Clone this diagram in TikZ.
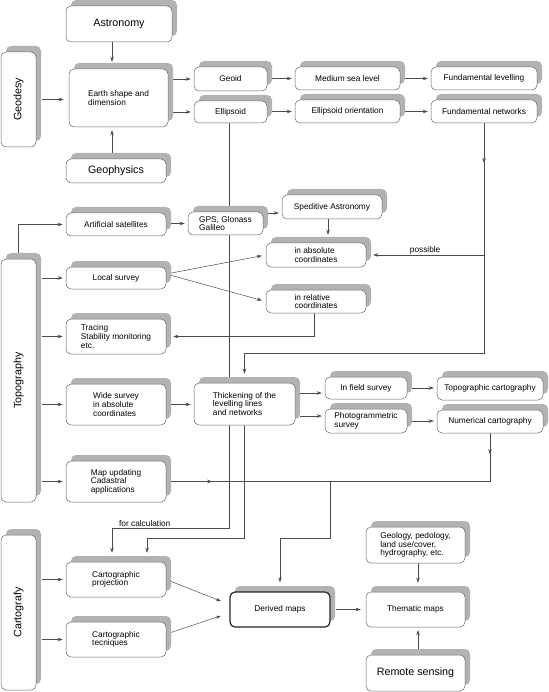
\documentclass[tikz,border=0pt]{standalone}
\usepackage{fontspec}
\usepackage{graphicx}
\setmainfont{Liberation Sans}
\usetikzlibrary{shadows,arrows.meta,calc}
\pgfdeclarelayer{bg}
\pgfsetlayers{bg,main}
\tikzset{
  box/.style={draw=black!60, fill=white, rounded corners=5pt, line width=0.5pt, align=left, inner sep=1pt,
    font=\fontsize{8.3}{8.6}\selectfont,
    drop shadow={shadow xshift=5pt, shadow yshift=6pt, fill=black!30, opacity=1}},
  bigbox/.style={box, font=\fontsize{10.7}{12}\selectfont},
  mainbox/.style={box, draw=black!85, line width=1.2pt},
  conn/.style={draw=black!70, line width=0.5pt},
  arr/.style={conn, -{Stealth[length=5pt,width=3.5pt]}, shorten >=3pt},
  lbl/.style={font=\fontsize{8.3}{9}\selectfont, inner sep=1pt, text=black},
}
\begin{document}
\begin{tikzpicture}[x=1pt,y=-1pt]
\useasboundingbox (0,0) rectangle (548,692);
% Geodesy block
\node[bigbox, minimum width=106pt, minimum height=36pt] (astro) at (119,24) {Astronomy};
\node[bigbox, minimum width=35pt, minimum height=95pt] (geodesy) at (18.5,99.5) {\rotatebox{90}{Geodesy}};
\node[box, minimum width=99pt, minimum height=58pt] (earth) at (118.5,98) {Earth shape and\\dimension};
\node[bigbox, minimum width=100pt, minimum height=24pt] (geophys) at (116,171) {Geophysics};
\node[box, minimum width=73pt, minimum height=24pt] (geoid) at (230.5,79) {Geoid};
\node[box, minimum width=73pt, minimum height=22pt] (ellipsoid) at (230.5,112) {Ellipsoid};
\node[box, minimum width=105pt, minimum height=23pt] (msl) at (347.5,78.5) {Medium sea level};
\node[box, minimum width=106pt, minimum height=23pt] (flev) at (484,78.5) {Fundamental levelling};
\node[box, minimum width=105pt, minimum height=23pt] (eorient) at (347.5,111.5) {Ellipsoid orientation};
\node[box, minimum width=106pt, minimum height=23pt] (fnet) at (484,111.5) {Fundamental networks};
% Topography block
\node[box, minimum width=100pt, minimum height=23pt] (artsat) at (116,224.5) {Artificial satellites};
\node[box, minimum width=75pt, minimum height=23pt] (gps) at (225.5,223.5) {GPS, Glonass\\Galileo};
\node[box, minimum width=100pt, minimum height=24pt] (sped) at (332,207) {Speditive Astronomy};
\node[bigbox, minimum width=35pt, minimum height=243pt] (topo) at (18.5,380.5) {\rotatebox{90}{Topography}};
\node[box, minimum width=100pt, minimum height=22pt] (local) at (116,278) {Local survey};
\node[box, minimum width=100pt, minimum height=24pt] (abs) at (316,255) {in absolute\\coordinates};
\node[box, minimum width=100pt, minimum height=23pt] (rel) at (316,301.5) {in relative\\coordinates};
\node[box, minimum width=100pt, minimum height=35pt] (tracing) at (116,336.5) {Tracing\\Stability monitoring\\etc.};
\node[box, minimum width=100pt, minimum height=41pt] (wide) at (116,404.5) {Wide survey\\in absolute\\coordinates};
\node[box, minimum width=101pt, minimum height=42pt] (thick) at (244.5,404) {Thickening of the\\levelling lines\\and networks};
\node[box, minimum width=82pt, minimum height=22pt] (field) at (366,388) {In field survey};
\node[box, minimum width=82pt, minimum height=24pt] (photo) at (366,421) {Photogrammetric\\survey};
\node[box, minimum width=106pt, minimum height=23pt] (topcart) at (490,388.5) {Topographic cartography};
\node[box, minimum width=106pt, minimum height=23pt] (numcart) at (490,421.5) {Numerical cartography};
\node[box, minimum width=100pt, minimum height=41pt] (mapupd) at (116,481.5) {Map updating\\Cadastral\\applications};
% Cartography block
\node[bigbox, minimum width=35pt, minimum height=155pt] (carto) at (18.5,612.5) {\rotatebox{90}{Cartografy}};
\node[box, minimum width=100pt, minimum height=35pt] (cproj) at (116,579.5) {Cartographic\\projection};
\node[box, minimum width=100pt, minimum height=35pt] (ctech) at (116,639.5) {Cartographic\\tecniques};
\node[mainbox, minimum width=100pt, minimum height=35pt] (derived) at (280,609.5) {Derived maps};
\node[box, minimum width=99pt, minimum height=36pt] (geology) at (415.5,545) {Geology, pedology,\\land use/cover,\\hydrography, etc.};
\node[box, minimum width=99pt, minimum height=35pt] (thematic) at (415.5,609.5) {Thematic maps};
\node[bigbox, minimum width=99pt, minimum height=36pt] (remote) at (415.5,673) {Remote sensing};
\coordinate (j1) at (330,481.5);

\begin{pgfonlayer}{bg}
% geodesy connectors
\draw[arr, shorten >=7pt] ([xshift=-7pt]astro.south) -- ([xshift=-7pt]astro.south |- earth.north);
\draw[arr, shorten <=6pt] ([xshift=-7pt]astro.south |- geophys.north) -- ([xshift=-7pt]astro.south |- earth.south);
\draw[arr, shorten <=6pt, shorten >=5pt] (geodesy.east) -- (geodesy.east -| earth.west);
\draw[arr, shorten <=5pt] (earth.east |- geoid.west) -- (geoid.west);
\draw[arr, shorten <=5pt] (earth.east |- ellipsoid.west) -- (ellipsoid.west);
\draw[arr, shorten <=5pt] (geoid.east |- msl.west) -- (msl.west);
\draw[arr, shorten <=5pt] (msl.east |- flev.west) -- (flev.west);
\draw[arr, shorten <=5pt] (ellipsoid.east |- eorient.west) -- (eorient.west);
\draw[arr, shorten <=5pt] (eorient.east |- fnet.west) -- (fnet.west);
% fundamental networks line
\draw[arr, shorten >=9pt] (fnet.south) -- (fnet.south |- 0,353) -| (thick.north);
\draw[arr] (fnet.south) -- (fnet.south |- 0,166);
\draw[arr, shorten >=7pt] (fnet.south |- abs.east) -- node[lbl, above]{possible} (abs.east);
% ellipsoid line to projection
\draw[arr, shorten >=9pt] ([xshift=-1.5pt]ellipsoid.south) -- ([xshift=-1.5pt]ellipsoid.south |- 0,528)
  -- node[lbl, above, pos=0.72]{for calculation} ([xshift=-4pt]cproj.north |- 0,528) -- ([xshift=-4pt]cproj.north);
\draw[arr, shorten >=9pt] (thick.south) -- (thick.south |- 0,538) -| ([xshift=31pt]cproj.north);
% map updating line
\draw[conn] (mapupd.east) -- (numcart.south |- mapupd.east) -- (numcart.south);
\draw[arr, shorten <=5pt] (mapupd.east) -- ++(49,0);
\draw[arr] (numcart.south) -- ++(0,24);
\draw[arr, shorten >=9pt] (j1) -- (j1 |- 0,538) -| (derived.north);
% topography connectors
\draw[arr, shorten <=6pt] (topo.north) |- (artsat.west);
\draw[arr, shorten <=6pt] (topo.east |- local.west) -- (local.west);
\draw[arr, shorten <=6pt] (topo.east |- tracing.west) -- (tracing.west);
\draw[arr, shorten <=6pt] (topo.east |- wide.west) -- (wide.west);
\draw[arr, shorten <=6pt] (topo.east |- mapupd.west) -- (mapupd.west);
\draw[arr, shorten <=5pt] (artsat.east |- gps.west) -- (gps.west);
\draw[arr, shorten <=5pt] ([yshift=-6pt]sped.west -| gps.east) -- ([yshift=-6pt]sped.west);
\draw[arr, shorten >=8pt] ([xshift=-4pt]sped.south) -- ([xshift=-4pt]sped.south |- abs.north);
\draw[arr, shorten <=5pt, shorten >=4pt] ([yshift=4pt]local.east) -- (abs.west);
\draw[arr, shorten <=5pt, shorten >=4pt] ([yshift=4pt]local.east) -- (rel.west);
\draw[arr, shorten >=7pt] ([xshift=-2pt]rel.south) |- (tracing.east);
\draw[arr, shorten <=5pt] (wide.east) -- (wide.east -| thick.west);
\draw[arr, shorten <=5pt] ([yshift=11pt]thick.east) -- ([yshift=11pt]thick.east -| field.west);
\draw[arr, shorten <=5pt] ([yshift=-12pt]thick.east) -- ([yshift=-12pt]thick.east -| photo.west);
\draw[arr, shorten <=5pt] (field.east) -- (field.east -| topcart.west);
\draw[arr, shorten <=5pt] (photo.east) -- (photo.east -| numcart.west);
% cartography connectors
\draw[arr, shorten <=6pt] (carto.east |- cproj.west) -- (cproj.west);
\draw[arr, shorten <=6pt] (carto.east |- ctech.west) -- (ctech.west);
\draw[arr, shorten <=5pt, shorten >=9pt] (cproj.east) -- ([yshift=5pt]derived.west);
\draw[arr, shorten <=5pt, shorten >=9pt] ([yshift=5.5pt]ctech.east) -- ([yshift=-3.5pt]derived.west);
\draw[arr, shorten <=5pt, shorten >=5pt] (derived.east) -- (derived.east -| thematic.west);
\draw[arr, shorten >=9pt] ([xshift=2.5pt]geology.south) -- ([xshift=2.5pt]geology.south |- thematic.north);
\draw[arr, shorten <=6pt] ([xshift=2.5pt]remote.north) -- ([xshift=2.5pt]remote.north |- thematic.south);
\end{pgfonlayer}
\end{tikzpicture}
\end{document}
